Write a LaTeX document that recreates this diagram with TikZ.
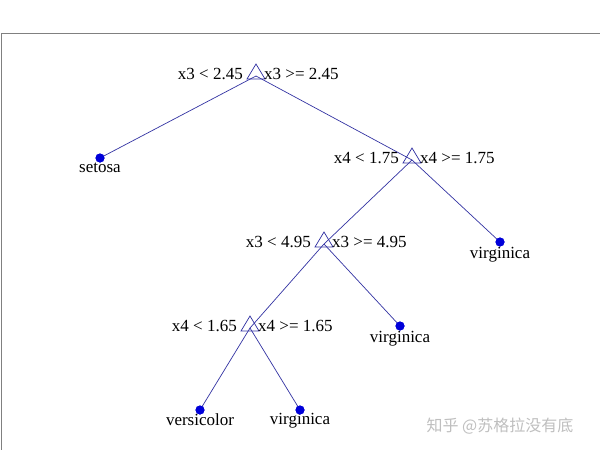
\documentclass[tikz,border=0pt]{standalone}
\usepackage{fontspec}
\setmainfont{Liberation Serif}
\newfontfamily\cjk{Noto Sans CJK SC}
\begin{document}
\begin{tikzpicture}[x=1pt,y=-1pt,
  edge/.style={draw=blue!55!black!80, line width=0.7pt},
  leaf/.style={circle, fill=blue!85!black, inner sep=0pt, minimum size=9pt},
  lab/.style={font=\fontsize{17}{17}\selectfont, inner sep=0pt}]
\useasboundingbox (0,0) rectangle (600,450);
\fill[white] (0,0) rectangle (600,450);
\draw[gray, line width=1pt] (1,450) -- (1,33) -- (600,33);
\foreach \n/\x/\y/\l/\r in {a/256/76/x3 < 2.45/x3 >= 2.45, b/412/160/x4 < 1.75/x4 >= 1.75, c/324/244/x3 < 4.95/x3 >= 4.95, d/250/328/x4 < 1.65/x4 >= 1.65}{
  \coordinate (\n) at (\x,\y);
  \draw[edge] (\x,\y-12) -- (\x-9,\y+3) -- (\x+9,\y+3) -- cycle;
  \node[lab, anchor=east] (\n l) at (\x-13,\y-2) {\l};
  \node[lab, anchor=west] (\n r) at (\x+8,\y-2) {\r};
}
\node[leaf] (s) at (100,158) {};
\node[leaf] (v1) at (500,242) {};
\node[leaf] (v2) at (400,326) {};
\node[leaf] (ve) at (200,410) {};
\node[leaf] (v3) at (300,410) {};
\node[lab, anchor=north] (sl) at (100,163) {setosa};
\node[lab, anchor=north] (v1l) at (500,247) {virginica};
\node[lab, anchor=north] (v2l) at (400,331) {virginica};
\node[lab, anchor=north] (vel) at (200,413) {versicolor};
\node[lab, anchor=north] (v3l) at (300,413) {virginica};
\draw[edge] (a) -- (s.center); \draw[edge] (a) -- (b);
\draw[edge] (b) -- (c); \draw[edge] (b) -- (v1.center);
\draw[edge] (c) -- (d); \draw[edge] (c) -- (v2.center);
\draw[edge] (d) -- (ve.center); \draw[edge] (d) -- (v3.center);
\node[leaf] at (s) {}; \node[leaf] at (v1) {}; \node[leaf] at (v2) {}; \node[leaf] at (ve) {}; \node[leaf] at (v3) {};
\node[font=\cjk\fontsize{16}{16}\selectfont, text=gray!50, inner sep=0pt] (wm) at (500,426) {知乎 @苏格拉没有底};
\end{tikzpicture}
\end{document}
